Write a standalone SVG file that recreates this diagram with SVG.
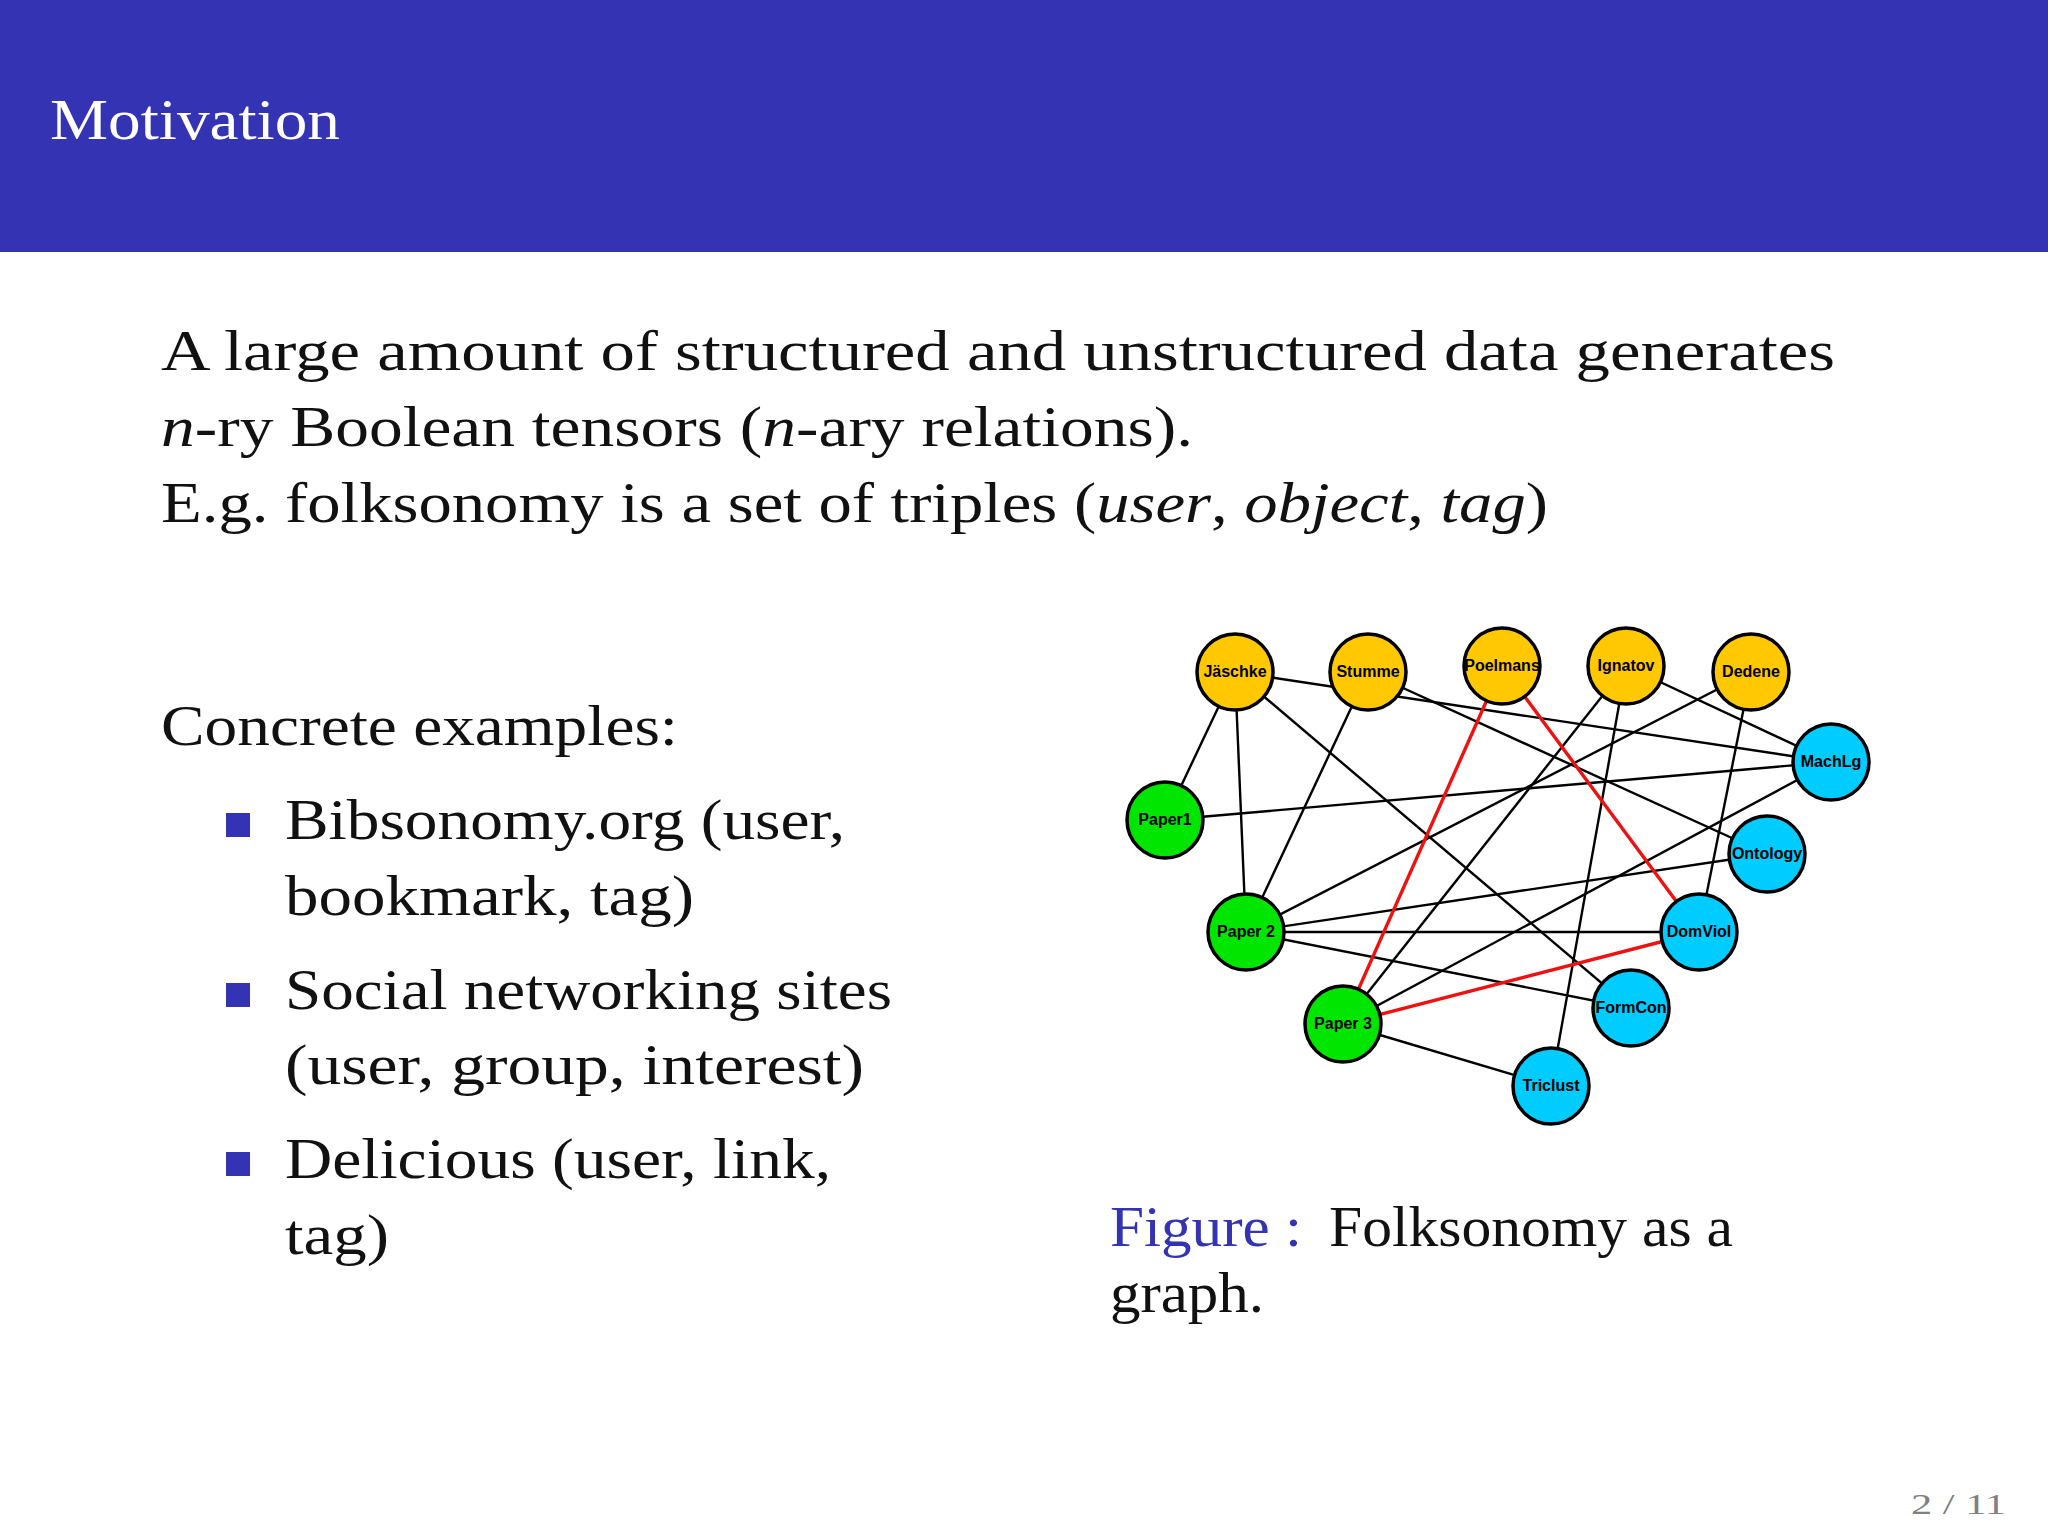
<svg xmlns="http://www.w3.org/2000/svg" width="2048" height="1536" viewBox="0 0 2048 1536">
<style>
.body{font-family:"Liberation Serif","DejaVu Serif",serif;font-size:58px;fill:#111}
.it{font-style:italic}
.blue{fill:#3333b3}
.node{stroke:#000;stroke-width:3.5}
.u{fill:#ffc800}
.p{fill:#00e600}
.t{fill:#00ccff}
.lbl{font-family:"Liberation Sans",Arial,sans-serif;font-weight:bold;font-size:16px;fill:#000;text-anchor:middle}
.e{stroke:#000;stroke-width:2.4;fill:none}
.r{stroke:#ee1111;stroke-width:3.4;fill:none}
</style>
<rect x="0" y="0" width="2048" height="1536" fill="#fff"/>
<rect x="0" y="0" width="2048" height="252" fill="#3333b3"/>
<text x="50" y="139" font-family="Liberation Serif,serif" font-size="58" fill="#fff" textLength="290" lengthAdjust="spacingAndGlyphs">Motivation</text>

<text class="body" x="161" y="370" textLength="1674" lengthAdjust="spacingAndGlyphs">A large amount of structured and unstructured data generates</text>
<text class="body" x="161" y="446" textLength="1032" lengthAdjust="spacingAndGlyphs"><tspan class="it">n</tspan>-ry Boolean tensors (<tspan class="it">n</tspan>-ary relations).</text>
<text class="body" x="161" y="522" textLength="1387" lengthAdjust="spacingAndGlyphs">E.g. folksonomy is a set of triples (<tspan class="it">user</tspan>, <tspan class="it">object</tspan>, <tspan class="it">tag</tspan>)</text>

<text class="body" x="161" y="745" textLength="517" lengthAdjust="spacingAndGlyphs">Concrete examples:</text>
<rect class="blue" x="226" y="813" width="24" height="24"/>
<text class="body" x="285" y="839" textLength="560" lengthAdjust="spacingAndGlyphs">Bibsonomy.org (user,</text>
<text class="body" x="285" y="915" textLength="409" lengthAdjust="spacingAndGlyphs">bookmark, tag)</text>
<rect class="blue" x="226" y="983" width="24" height="24"/>
<text class="body" x="285" y="1009" textLength="607" lengthAdjust="spacingAndGlyphs">Social networking sites</text>
<text class="body" x="285" y="1084" textLength="579" lengthAdjust="spacingAndGlyphs">(user, group, interest)</text>
<rect class="blue" x="226" y="1152" width="24" height="24"/>
<text class="body" x="285" y="1178" textLength="546" lengthAdjust="spacingAndGlyphs">Delicious (user, link,</text>
<text class="body" x="285" y="1254" textLength="104" lengthAdjust="spacingAndGlyphs">tag)</text>

<text class="body blue" x="1110" y="1246" textLength="192" lengthAdjust="spacingAndGlyphs">Figure :</text>
<text class="body" x="1329" y="1246" textLength="404" lengthAdjust="spacingAndGlyphs">Folksonomy as a</text>
<text class="body" x="1110" y="1312" textLength="154" lengthAdjust="spacingAndGlyphs">graph.</text>

<text x="1911" y="1514" font-family="Liberation Serif,serif" font-size="30" fill="#808080" textLength="95" lengthAdjust="spacingAndGlyphs">2 / 11</text>

<g id="connectors" transform="translate(-2,-2)">
<line class="e" x1="1237" y1="674" x2="1167" y2="822"/>
<line class="e" x1="1237" y1="674" x2="1248" y2="934"/>
<line class="e" x1="1237" y1="674" x2="1833" y2="764"/>
<line class="e" x1="1237" y1="674" x2="1633" y2="1010"/>
<line class="e" x1="1370" y1="674" x2="1248" y2="934"/>
<line class="e" x1="1370" y1="674" x2="1769" y2="856"/>
<line class="e" x1="1628" y1="668" x2="1345" y2="1026"/>
<line class="e" x1="1628" y1="668" x2="1553" y2="1088"/>
<line class="e" x1="1628" y1="668" x2="1833" y2="764"/>
<line class="e" x1="1753" y1="674" x2="1248" y2="934"/>
<line class="e" x1="1753" y1="674" x2="1701" y2="934"/>
<line class="e" x1="1833" y1="764" x2="1167" y2="822"/>
<line class="e" x1="1833" y1="764" x2="1345" y2="1026"/>
<line class="e" x1="1769" y1="856" x2="1248" y2="934"/>
<line class="e" x1="1248" y1="934" x2="1701" y2="934"/>
<line class="e" x1="1248" y1="934" x2="1633" y2="1010"/>
<line class="e" x1="1345" y1="1026" x2="1553" y2="1088"/>
<line class="r" x1="1504" y1="668" x2="1345" y2="1026"/>
<line class="r" x1="1504" y1="668" x2="1701" y2="934"/>
<line class="r" x1="1345" y1="1026" x2="1701" y2="934"/>
</g>

<g transform="translate(-2,-2)">
<g id="n-jaeschke"><circle class="node u" cx="1237" cy="674" r="38"/><text class="lbl" x="1237" y="679">Jäschke</text></g>
<g id="n-stumme"><circle class="node u" cx="1370" cy="674" r="38"/><text class="lbl" x="1370" y="679">Stumme</text></g>
<g id="n-poelmans"><circle class="node u" cx="1504" cy="668" r="38"/><text class="lbl" x="1504" y="673">Poelmans</text></g>
<g id="n-ignatov"><circle class="node u" cx="1628" cy="668" r="38"/><text class="lbl" x="1628" y="673">Ignatov</text></g>
<g id="n-dedene"><circle class="node u" cx="1753" cy="674" r="38"/><text class="lbl" x="1753" y="679">Dedene</text></g>
<g id="n-machlg"><circle class="node t" cx="1833" cy="764" r="38"/><text class="lbl" x="1833" y="769">MachLg</text></g>
<g id="n-paper1"><circle class="node p" cx="1167" cy="822" r="38"/><text class="lbl" x="1167" y="827">Paper1</text></g>
<g id="n-ontology"><circle class="node t" cx="1769" cy="856" r="38"/><text class="lbl" x="1769" y="861">Ontology</text></g>
<g id="n-paper2"><circle class="node p" cx="1248" cy="934" r="38"/><text class="lbl" x="1248" y="939">Paper 2</text></g>
<g id="n-domviol"><circle class="node t" cx="1701" cy="934" r="38"/><text class="lbl" x="1701" y="939">DomViol</text></g>
<g id="n-formcon"><circle class="node t" cx="1633" cy="1010" r="38"/><text class="lbl" x="1633" y="1015">FormCon</text></g>
<g id="n-paper3"><circle class="node p" cx="1345" cy="1026" r="38"/><text class="lbl" x="1345" y="1031">Paper 3</text></g>
<g id="n-triclust"><circle class="node t" cx="1553" cy="1088" r="38"/><text class="lbl" x="1553" y="1093">Triclust</text></g>
</g>
</svg>
